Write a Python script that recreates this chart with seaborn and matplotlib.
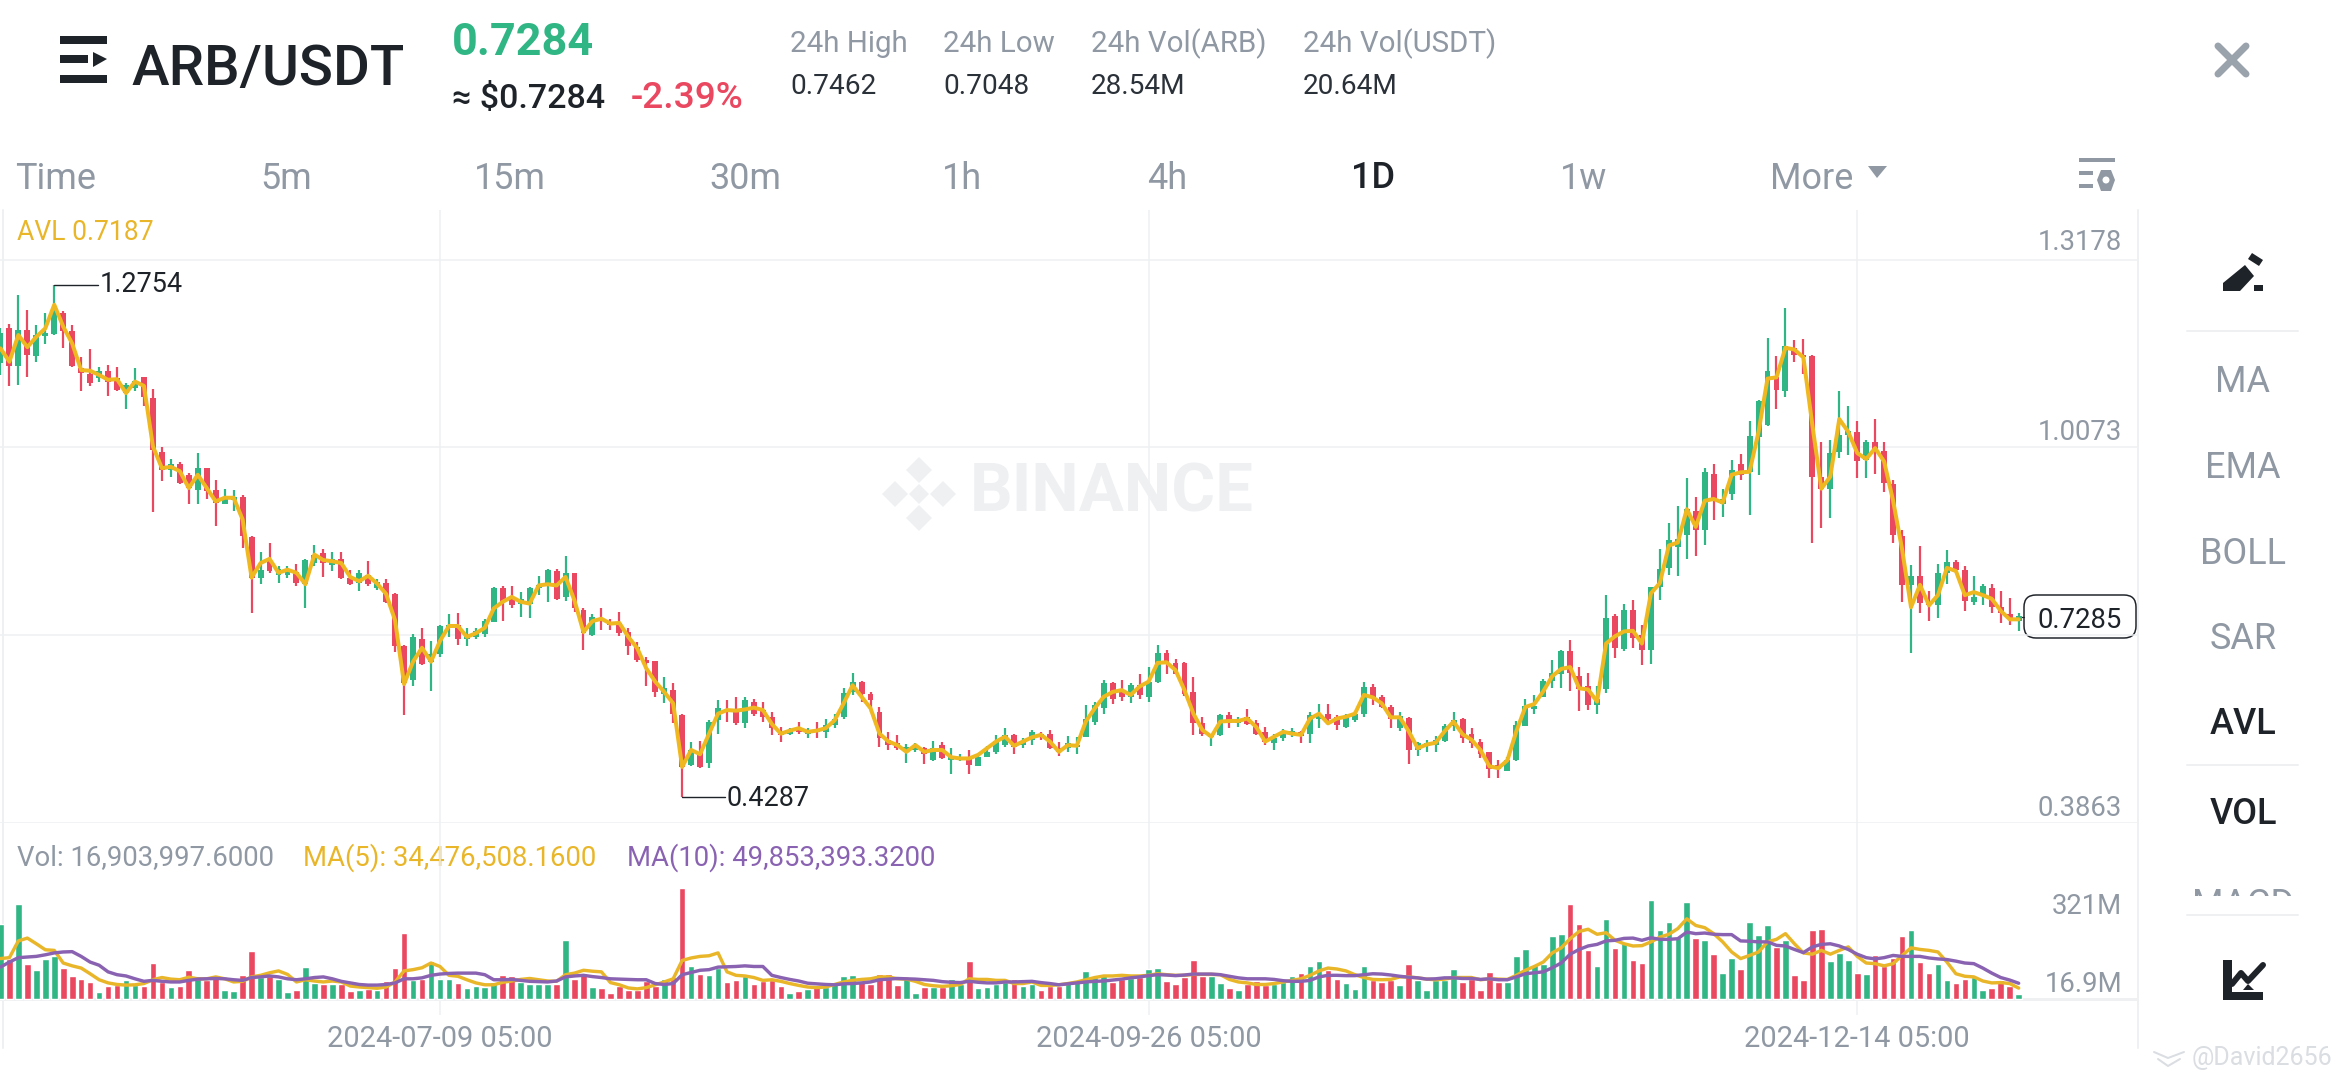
import numpy as np
import pandas as pd
import matplotlib
matplotlib.use("Agg")
import matplotlib.pyplot as plt
from matplotlib.patches import FancyBboxPatch, Polygon, Rectangle
import seaborn as sns

# candles, one row = 10 days
open_ = [
    1.146,1.204,1.142,1.202,1.158,1.191,1.194,1.230,1.200,1.138,
    1.129,1.122,1.134,1.122,1.097,1.105,1.123,1.089,.999,.970,
    .980,.962,.937,.973,.936,.914,.921,.925,.859,.792,
    .822,.797,.797,.801,.781,.816,.833,.813,.822,.792,
    .783,.797,.775,.783,.765,.679,.622,.691,.653,.666,
    .709,.713,.691,.694,.699,.719,.775,.760,.749,.749,
    .774,.782,.803,.760,.799,.739,.697,.724,.719,.717,
    .702,.677,.655,.654,.600,.606,.565,.482,.504,.485,
    .556,.574,.573,.551,.587,.573,.562,.534,.534,.544,
    .534,.540,.537,.548,.562,.603,.620,.600,.570,.523,
    .518,.504,.507,.511,.490,.516,.490,.490,.496,.481,
    .496,.504,.515,.532,.515,.523,.534,.534,.511,.510,
    .512,.529,.554,.576,.617,.603,.595,.614,.595,.620,
    .668,.650,.650,.603,.551,.528,.532,.565,.551,.561,
    .551,.537,.518,.526,.532,.537,.534,.559,.567,.562,
    .545,.556,.567,.611,.595,.578,.544,.560,.507,.513,
    .516,.522,.547,.558,.533,.521,.503,.482,.473,.490,
    .547,.575,.595,.621,.632,.670,.629,.612,.581,.607,
    .729,.674,.738,.697,.672,.777,.808,.842,.862,.902,
    .871,.964,.913,.930,.979,.967,1.024,1.044,1.123,1.101,
    1.172,1.160,1.159,.959,.939,1.000,1.027,1.033,.987,1.016,
    1.001,.947,.861,.780,.795,.751,.746,.800,.818,.804,
    .751,.763,.774,.743,.732,.720,
]
high = [
    1.204,1.212,1.259,1.234,1.210,1.230,1.2754,1.233,1.210,1.156,
    1.170,1.140,1.143,1.140,1.114,1.138,1.124,1.104,1.008,.988,
    .983,.965,.998,.973,.954,.938,.937,.929,.861,.834,
    .849,.811,.811,.815,.822,.846,.839,.835,.834,.805,
    .805,.819,.789,.789,.767,.680,.698,.709,.688,.714,
    .731,.734,.708,.708,.724,.777,.778,.778,.768,.777,
    .794,.807,.807,.828,.800,.741,.731,.741,.723,.735,
    .709,.686,.661,.654,.627,.618,.566,.521,.522,.556,
    .589,.589,.595,.595,.591,.587,.569,.545,.543,.553,
    .543,.553,.558,.567,.609,.635,.621,.603,.578,.537,
    .532,.517,.518,.512,.522,.521,.510,.501,.507,.501,
    .514,.532,.543,.533,.526,.540,.537,.540,.521,.530,
    .529,.581,.587,.622,.620,.622,.618,.633,.644,.680,
    .672,.657,.653,.628,.562,.534,.566,.569,.562,.574,
    .556,.545,.534,.541,.544,.539,.569,.583,.583,.565,
    .567,.572,.619,.616,.598,.581,.570,.561,.521,.524,
    .530,.550,.570,.560,.543,.525,.504,.490,.496,.555,
    .592,.598,.624,.655,.672,.689,.644,.635,.612,.763,
    .732,.749,.755,.714,.777,.839,.882,.910,.956,.926,
    .973,.980,.939,.986,.996,1.051,1.085,1.188,1.159,1.237,
    1.185,1.186,1.160,1.016,1.020,1.101,1.075,1.051,1.020,1.054,
    1.016,.954,.871,.812,.845,.770,.815,.837,.821,.811,
    .794,.781,.781,.770,.758,.733,
]
low = [
    1.127,1.108,1.111,1.124,1.149,1.179,1.193,1.171,1.140,1.101,
    1.109,1.116,1.092,1.101,1.070,1.101,1.075,.901,.952,.959,
    .946,.913,.914,.922,.877,.913,.902,.841,.734,.781,
    .800,.783,.792,.778,.741,.811,.793,.803,.790,.779,
    .770,.778,.772,.750,.669,.565,.613,.648,.604,.661,
    .694,.681,.679,.690,.693,.718,.720,.741,.727,.725,
    .764,.752,.755,.753,.735,.672,.696,.705,.705,.696,
    .664,.653,.613,.594,.584,.552,.4287,.481,.477,.478,
    .534,.554,.548,.544,.563,.554,.532,.521,.532,.534,
    .526,.526,.526,.543,.559,.598,.587,.569,.512,.507,
    .507,.485,.504,.484,.489,.492,.467,.489,.467,.480,
    .495,.501,.512,.500,.510,.515,.523,.508,.497,.503,
    .500,.528,.548,.567,.583,.588,.584,.592,.587,.618,
    .632,.632,.597,.532,.530,.514,.530,.543,.545,.548,
    .532,.515,.507,.522,.528,.518,.518,.543,.554,.540,
    .543,.554,.561,.581,.577,.543,.538,.4845,.497,.504,
    .503,.520,.538,.518,.510,.494,.461,.461,.472,.489,
    .546,.567,.594,.609,.609,.604,.571,.573,.566,.602,
    .659,.670,.675,.647,.649,.755,.797,.795,.822,.828,
    .846,.888,.892,.920,.953,.895,.961,1.043,1.070,1.091,
    1.149,1.128,.850,.874,.891,.990,.994,.957,.956,.964,
    .933,.850,.751,.667,.733,.721,.726,.781,.804,.737,
    .747,.747,.734,.717,.714,.704,
]
close = [
    1.196,1.142,1.202,1.160,1.193,1.197,1.234,1.199,1.141,1.130,
    1.113,1.133,1.115,1.102,1.111,1.117,1.091,1.003,.970,.979,
    .948,.940,.973,.935,.915,.924,.926,.860,.792,.805,
    .803,.806,.805,.783,.821,.830,.816,.822,.792,.781,
    .800,.781,.784,.752,.679,.617,.694,.649,.666,.712,
    .713,.691,.698,.704,.721,.774,.752,.746,.756,.774,
    .779,.804,.757,.799,.741,.701,.727,.721,.713,.701,
    .679,.655,.651,.603,.609,.567,.479,.507,.479,.554,
    .576,.570,.551,.589,.567,.562,.543,.532,.540,.537,
    .540,.537,.548,.559,.602,.620,.600,.589,.526,.515,
    .510,.512,.514,.500,.510,.493,.496,.496,.482,.495,
    .504,.522,.531,.512,.521,.536,.528,.510,.504,.518,
    .515,.559,.581,.618,.592,.595,.614,.598,.620,.668,
    .650,.633,.600,.551,.534,.532,.565,.551,.559,.550,
    .534,.521,.526,.537,.539,.530,.565,.567,.559,.548,
    .562,.567,.611,.595,.578,.559,.564,.507,.518,.518,
    .524,.547,.557,.527,.518,.501,.476,.476,.490,.549,
    .579,.579,.621,.635,.670,.635,.607,.581,.592,.725,
    .675,.738,.692,.672,.777,.806,.854,.856,.905,.871,
    .967,.919,.922,.970,.962,1.026,1.084,1.134,1.102,1.175,
    1.160,1.156,.959,.939,.998,1.027,1.035,.984,1.016,1.004,
    .949,.862,.780,.794,.750,.746,.799,.817,.805,.754,
    .760,.778,.743,.734,.723,.7285,
]
avl = [
    1.171,1.149,1.193,1.173,1.190,1.204,1.243,1.207,1.179,1.135,
    1.134,1.127,1.119,1.120,1.097,1.116,1.109,1.009,.973,.975,
    .968,.940,.962,.940,.918,.924,.924,.888,.792,.816,
    .823,.800,.805,.800,.781,.830,.821,.819,.816,.793,
    .786,.795,.782,.765,.721,.616,.653,.676,.653,.687,
    .712,.712,.694,.700,.709,.741,.752,.760,.752,.749,
    .779,.781,.779,.793,.754,.702,.720,.724,.716,.717,
    .694,.675,.642,.620,.603,.584,.479,.507,.500,.534,
    .567,.573,.572,.574,.577,.573,.550,.534,.539,.543,
    .537,.539,.543,.556,.584,.614,.595,.576,.534,.521,
    .515,.504,.515,.504,.507,.507,.495,.493,.493,.499,
    .510,.521,.529,.514,.521,.528,.532,.521,.504,.515,
    .514,.554,.576,.595,.603,.606,.598,.612,.620,.651,
    .652,.639,.606,.567,.540,.529,.554,.555,.555,.559,
    .545,.521,.529,.537,.534,.532,.559,.567,.551,.559,
    .562,.567,.598,.594,.584,.561,.561,.538,.510,.516,
    .519,.538,.554,.533,.524,.507,.480,.477,.490,.538,
    .578,.583,.604,.629,.641,.644,.609,.607,.587,.683,
    .695,.703,.704,.683,.766,.783,.845,.850,.905,.876,
    .919,.922,.916,.962,.966,.967,1.033,1.121,1.123,1.172,
    1.169,1.156,1.044,.939,.959,1.054,1.033,.998,.988,1.006,
    .984,.919,.839,.743,.780,.746,.763,.808,.803,.763,
    .768,.763,.757,.737,.723,.723,
]

# volume and its moving averages, in millions
volume = [
    239,128,300,112,91,128,135,97,72,64,
    54,22,40,43,59,43,40,114,54,38,
    40,91,74,59,70,27,25,77,152,70,
    72,64,21,30,101,51,49,46,46,24,
    27,33,30,57,97,209,59,64,119,62,
    62,51,35,40,37,54,76,72,54,46,
    46,46,46,186,63,80,37,36,19,40,
    27,27,56,40,63,70,351,105,78,76,
    99,54,59,72,46,56,59,42,19,25,
    33,43,38,51,74,75,54,46,80,80,
    44,67,18,37,38,37,63,46,121,35,
    37,46,54,62,41,46,27,42,42,56,
    58,88,71,75,54,64,67,70,94,97,
    56,46,70,122,72,72,51,34,30,49,
    56,45,49,54,72,81,103,120,91,62,
    51,33,103,61,54,61,45,110,59,30,
    59,61,94,55,62,27,87,54,54,135,
    159,107,112,199,205,300,239,156,105,254,
    162,177,122,115,313,218,243,196,306,194,
    188,144,81,129,94,243,202,235,165,186,
    75,61,220,221,119,146,122,83,79,138,
    103,131,199,218,117,82,110,59,51,63,
    70,27,34,61,42,16.9,
]
ma5 = [
    128,131,184,193,175,156,154,114,105,98,
    80,61,51,46,44,45,49,61,68,63,
    61,69,64,64,70,64,54,56,70,75,
    83,89,78,54,61,57,54,57,54,41,
    38,36,34,38,54,89,93,99,114,103,
    75,72,61,51,45,45,53,57,62,65,
    61,57,56,77,82,91,88,86,52,45,
    35,32,36,45,54,64,122,130,135,137,
    146,86,75,73,68,59,61,56,49,43,
    38,36,38,46,54,59,62,64,70,70,
    64,63,56,46,42,40,42,46,64,62,
    62,59,59,49,49,54,43,43,45,49,
    54,61,68,73,73,75,73,73,75,80,
    77,75,75,78,78,78,77,62,54,51,
    46,46,49,54,59,64,75,89,98,95,
    89,77,68,62,61,62,70,70,67,63,
    61,63,68,68,68,61,64,63,62,75,
    91,103,117,146,162,191,214,221,205,210,
    186,175,168,169,181,196,205,223,254,233,
    226,207,181,149,128,138,149,181,189,207,
    175,146,142,154,142,154,165,135,114,112,
    105,112,138,162,157,154,149,117,80,72,
    70,57,51,52,49,34.5,
]
ma10 = [
    101,117,131,133,135,140,146,149,150,135,
    117,107,86,77,73,64,56,59,56,54,
    54,59,63,64,65,64,61,59,68,70,
    73,70,64,61,64,68,70,64,56,51,
    46,44,44,46,51,64,64,67,75,79,
    81,82,82,82,77,61,61,62,59,56,
    55,54,57,70,73,75,71,68,64,63,
    62,61,61,49,46,49,77,84,91,93,
    101,102,103,105,103,103,75,68,62,57,
    50,48,46,45,48,49,51,54,61,63,
    65,64,63,61,59,55,53,52,56,53,
    51,51,54,54,55,56,52,49,45,48,
    51,54,56,57,60,63,67,70,74,77,
    76,74,76,79,79,79,77,72,67,64,
    64,64,62,58,56,56,59,70,75,75,
    74,74,77,80,79,76,72,69,67,63,
    64,67,67,65,65,62,64,61,61,70,
    80,83,86,99,114,142,157,168,173,184,
    186,192,193,186,194,189,189,191,212,207,
    209,205,204,204,184,183,181,181,170,168,
    157,147,165,173,175,168,157,142,131,127,
    131,138,135,135,135,130,127,125,120,114,
    112,98,82,68,60,49.9,
]

date_ticks = [49, 128, 207]
date_labels = ["2024-07-09 05:00", "2024-09-26 05:00", "2024-12-14 05:00"]
price_grid = [1.3178, 1.0073, 0.6968, 0.3863]

GREEN = "#30B585"
RED = "#EA4760"
YELLOW = "#E9B62A"
AVL_LINE = "#EFB820"
PURPLE = "#8A62B2"
GRID = "#EEF0F2"
GRAY = "#8F98A3"
DARK = "#1E2329"

W, H = 2340, 1080
PT = 0.72  # px to pt at dpi 100

sns.set_theme(style="white")
plt.rcParams["font.family"] = ["Roboto", "DejaVu Sans"]

days = np.arange(len(close))
o, h, l, c = map(np.array, (open_, high, low, close))
up = c >= o
colors = np.where(up, GREEN, RED)

fig = plt.figure(figsize=(W / 100, H / 100), dpi=100, facecolor="white")


def add_ax(left, top, right, bottom, **kw):
    return fig.add_axes([left / W, 1 - bottom / H, (right - left) / W, (bottom - top) / H], **kw)


# page furniture sits in pixel coordinates behind the charts
ui = fig.add_axes([0, 0, 1, 1], zorder=0)
ui.set_xlim(0, W)
ui.set_ylim(H, 0)
ui.axis("off")


def txt(x, y, s, size, color=DARK, ha="left", weight="normal", **kw):
    # +3: Roboto centres a little high here
    return ui.text(x, y + 3, s, fontsize=size * PT, color=color, ha=ha, va="center", fontweight=weight, **kw)


def box(x0, y0, x1, y1, color=DARK, zorder=1):
    ui.add_patch(Rectangle((x0, y0), x1 - x0, y1 - y0, color=color, lw=0, zorder=zorder))


# header
box(60, 36, 107, 44)
box(60, 55, 88, 63)
box(60, 75, 107, 83)
ui.add_patch(Polygon([(93, 52), (107, 59), (93, 67)], color=DARK, lw=0))
txt(132, 66, "ARB/USDT", 56.5, weight="medium")
txt(452, 40, "0.7284", 45, GREEN, weight="bold")
txt(452, 96, "≈ $0.7284", 34, weight="medium")
txt(631, 96, "-2.39%", 37, RED, weight="medium")
for x, head, val in [(790, "24h High", "0.7462"), (943, "24h Low", "0.7048"),
                     (1091, "24h Vol(ARB)", "28.54M"), (1303, "24h Vol(USDT)", "20.64M")]:
    txt(x, 41, head, 29.5, GRAY)
    txt(x, 83, val, 28, "#2B3139")
ui.plot([2218, 2246], [46, 74], color="#9AA2AC", lw=7 * PT)
ui.plot([2218, 2246], [74, 46], color="#9AA2AC", lw=7 * PT)

# interval row
for x, s in [(15, "Time"), (260, "5m"), (474, "15m"), (709, "30m"), (942, "1h"),
             (1147, "4h"), (1560, "1w"), (1770, "More")]:
    txt(x, 176, s, 36, GRAY)
txt(1351, 176, "1D", 36, DARK, weight="medium")
ui.add_patch(Polygon([(1868, 166), (1887, 166), (1877, 178)], color=GRAY, lw=0))
box(2079, 158, 2115, 162, GRAY)
box(2079, 171, 2093, 175, GRAY)
box(2079, 184, 2093, 188, GRAY)
ui.add_patch(Polygon([(2097, 180), (2101, 170), (2111, 170), (2115, 180), (2111, 191), (2101, 191)],
                     color=GRAY, lw=0))
ui.add_patch(plt.Circle((2106, 180), 3.5, color="white", lw=0))

# watermark
for dx, dy, r in [(0, -24, 13), (-24, 0, 13), (24, 0, 13), (0, 24, 13), (0, 0, 10)]:
    ui.add_patch(Polygon([(919 + dx, 494 + dy - r), (919 + dx + r, 494 + dy),
                          (919 + dx, 494 + dy + r), (919 + dx - r, 494 + dy)], color="#EEF0F2", lw=0))
txt(970, 490, "BINANCE", 67, "#EEF0F2", weight="bold")

# side bar
for y, s, col, wt in [(379, "MA", GRAY, "normal"), (465, "EMA", GRAY, "normal"), (551, "BOLL", GRAY, "normal"),
                      (636, "SAR", GRAY, "normal"), (722, "AVL", DARK, "medium"), (811, "VOL", DARK, "medium"),
                      (902, "MACD", GRAY, "normal")]:
    txt(2243, y, s, 36, col, ha="center", weight=wt)
box(2180, 896, 2310, 930, "white", zorder=5)
for y in (331, 765, 915):
    ui.plot([2187, 2298], [y, y], color=GRID, lw=2 * PT, zorder=6)
ui.add_patch(Polygon([(2223, 291), (2223, 283), (2245, 265), (2254, 276), (2240, 291)], color=DARK, lw=0))
ui.add_patch(Polygon([(2248, 259), (2252, 253), (2263, 260), (2259, 266)], color=DARK, lw=0))
box(2254, 285, 2263, 291)
box(2223, 960, 2232, 1000)
box(2223, 992, 2263, 1000)
ui.plot([2232, 2241, 2248, 2263], [984, 973, 981, 965], color=DARK, lw=6 * PT)
ui.add_patch(Polygon([(2243, 990), (2248, 984), (2254, 990)], color=DARK, lw=0))

# frame lines and labels
ui.plot([3, 3], [210, 1048], color=GRID, lw=2 * PT)
ui.plot([2138, 2138], [210, 1048], color=GRID, lw=2 * PT)
txt(17, 230, "AVL 0.7187", 26.5, YELLOW)
txt(100, 282, "1.2754", 27, DARK)
txt(727, 796, "0.4287", 27, DARK)
for y, s in [(240, "1.3178"), (430, "1.0073"), (806, "0.3863"), (904, "321M"), (981, "16.9M")]:
    txt(2122, y, s, 27.5, GRAY, ha="right")
ui.add_patch(FancyBboxPatch((2024, 595), 112, 43, boxstyle="round,pad=0,rounding_size=12",
                            fc="white", ec=DARK, lw=1.5 * PT, zorder=3))
ui.plot([2018, 2024], [617, 617], color=DARK, lw=1.2 * PT, zorder=3)
txt(2122, 617, "0.7285", 27.5, DARK, ha="right", zorder=4)
txt(17, 855, "Vol: 16,903,997.6000", 27.5, GRAY)
txt(303, 855, "MA(5): 34,476,508.1600", 27.5, YELLOW)
txt(627, 855, "MA(10): 49,853,393.3200", 27.5, PURPLE)
txt(2192, 1055, "@David2656", 25, "#DADDE1")
ui.plot([2154, 2168, 2184], [1052, 1058, 1052], color="#DADDE1", lw=2 * PT)
ui.plot([2158, 2168, 2180], [1059, 1066, 1059], color="#DADDE1", lw=2 * PT)

# x = 0.43 + 8.97 * day px, so limits follow from that
xlim = (-0.43 / 8.97, (2138 - 0.43) / 8.97)

# price panel
ax = add_ax(0, 210, 2138, 823, zorder=1)
ax.set_facecolor("none")
ax.set_xticks(date_ticks)
ax.set_yticks(price_grid)
ax.grid(True, color=GRID, lw=1.5 * PT)
ax.set_axisbelow(True)
ax.tick_params(length=0, labelbottom=False, labelleft=False)
sns.despine(ax=ax, left=True, bottom=True)
ax.vlines(days, l, h, colors=colors, lw=2.2 * PT, zorder=2)
ax.bar(days, np.abs(c - o), bottom=np.minimum(o, c), width=0.66, color=colors, lw=0, zorder=2)
sns.lineplot(x=days, y=avl, ax=ax, color=AVL_LINE, lw=4 * PT, errorbar=None, zorder=3)
ax.set_xlim(xlim)
ax.set_ylim(0.3863, 1.3997)
ax.set_xlabel("")
ax.set_ylabel("")
# markers for the period high and low
ax.plot([days[6], 10.9], [1.2754, 1.2754], color=DARK, lw=1.4 * PT, zorder=4)
ax.plot([days[76], 80.8], [0.4287, 0.4287], color=DARK, lw=1.4 * PT, zorder=4)

# volume panel
vol = add_ax(0, 823, 2138, 1015, zorder=1)
vol.set_facecolor("none")
frame = pd.DataFrame({"day": days, "volume": volume, "side": np.where(up, "up", "down")})
sns.barplot(data=frame, x="day", y="volume", hue="side", palette={"up": GREEN, "down": RED},
            native_scale=True, dodge=False, width=0.74, legend=False, ax=vol, saturation=1, zorder=2)
sns.lineplot(x=days, y=ma5, ax=vol, color=YELLOW, lw=3.4 * PT, errorbar=None, zorder=3)
sns.lineplot(x=days, y=ma10, ax=vol, color=PURPLE, lw=3.4 * PT, errorbar=None, zorder=4)
vol.set_xlim(xlim)
vol.set_ylim(-50.7, 557.6)
vol.set_xticks(date_ticks, labels=date_labels)
vol.set_yticks([])
vol.grid(True, axis="x", color=GRID, lw=1.5 * PT)
vol.set_axisbelow(True)
vol.axhline(0, color=GRID, lw=3 * PT, zorder=1)
vol.tick_params(axis="x", length=0, pad=7, labelsize=29 * PT, labelcolor=GRAY)
vol.set_xlabel("")
vol.set_ylabel("")
sns.despine(ax=vol, left=True, bottom=True)

fig.savefig("out.png", dpi=100)
